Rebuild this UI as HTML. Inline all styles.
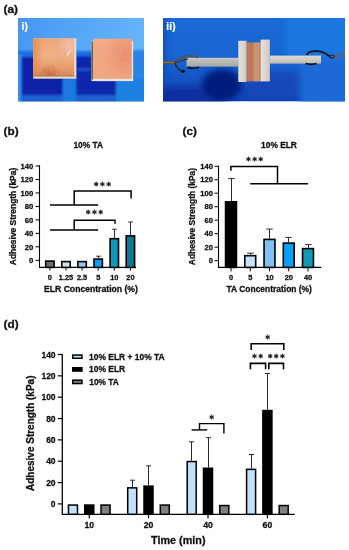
<!DOCTYPE html>
<html><head><meta charset="utf-8"><style>
html,body{margin:0;padding:0;background:#fff;width:349px;height:550px;overflow:hidden}
svg{position:absolute;left:0;top:0;display:block}
text{font-family:"Liberation Sans", Arial, sans-serif;font-weight:bold;fill:#111;stroke:#111;stroke-width:0.28px}
.st{font-family:"DejaVu Sans",sans-serif;stroke:#111;stroke-width:0.35px}
</style></head><body>
<svg width="349" height="550" viewBox="0 0 349 550">
<defs>
<clipPath id="c1"><rect x="18" y="18" width="126" height="83.5"/></clipPath>
<clipPath id="c2"><rect x="163" y="18" width="182" height="83.5"/></clipPath>
<filter id="b3" x="-30%" y="-30%" width="160%" height="160%"><feGaussianBlur stdDeviation="3"/></filter>
<filter id="b2" x="-20%" y="-20%" width="140%" height="140%"><feGaussianBlur stdDeviation="1.1"/></filter>
<filter id="b1" x="-20%" y="-20%" width="140%" height="140%"><feGaussianBlur stdDeviation="0.6"/></filter>
<filter id="b05" x="-10%" y="-10%" width="120%" height="120%"><feGaussianBlur stdDeviation="0.45"/></filter>
<filter id="spk" x="0" y="0" width="100%" height="100%"><feTurbulence type="fractalNoise" baseFrequency="0.3" numOctaves="3" seed="7"/><feColorMatrix type="matrix" values="0 0 0 0 0.8  0 0 0 0 0.36  0 0 0 0 0.28  6 0 0 0 -2.9"/><feComposite in2="SourceGraphic" operator="in"/></filter>
<linearGradient id="bg1" x1="0" y1="0" x2="1" y2="0.15">
<stop offset="0" stop-color="#4696f2"/><stop offset="0.5" stop-color="#56a6f7"/><stop offset="1" stop-color="#66b4fa"/></linearGradient>
<linearGradient id="t1" x1="0" y1="0" x2="0" y2="1">
<stop offset="0" stop-color="#eea676"/><stop offset="0.45" stop-color="#f0b286"/><stop offset="0.8" stop-color="#e69c68"/><stop offset="1" stop-color="#d68652"/></linearGradient>
<linearGradient id="t1l" x1="0" y1="0" x2="1" y2="0">
<stop offset="0" stop-color="#e2843c" stop-opacity="0.75"/><stop offset="0.25" stop-color="#e2843c" stop-opacity="0"/></linearGradient>
<radialGradient id="t1h" cx="0.88" cy="0.18" r="0.32">
<stop offset="0" stop-color="#f6c8c0" stop-opacity="0.75"/><stop offset="1" stop-color="#f6c8c0" stop-opacity="0"/></radialGradient>
<radialGradient id="t1d" cx="0.4" cy="0.95" r="0.28">
<stop offset="0" stop-color="#c0603a" stop-opacity="0.75"/><stop offset="1" stop-color="#c0603a" stop-opacity="0"/></radialGradient>
<linearGradient id="t2" x1="0" y1="0" x2="1" y2="1">
<stop offset="0" stop-color="#f4ae86"/><stop offset="0.5" stop-color="#f2a87e"/><stop offset="1" stop-color="#eea478"/></linearGradient>
<radialGradient id="t2r" cx="0.85" cy="0.4" r="0.6">
<stop offset="0" stop-color="#e86a58" stop-opacity="0.45"/><stop offset="1" stop-color="#e86a58" stop-opacity="0"/></radialGradient>
<linearGradient id="bg2" x1="0" y1="0" x2="0" y2="1">
<stop offset="0" stop-color="#1a6ad8"/><stop offset="0.5" stop-color="#1864d0"/><stop offset="0.75" stop-color="#1452c2"/><stop offset="1" stop-color="#1042b2"/></linearGradient>
<linearGradient id="tis" x1="0" y1="0" x2="1" y2="0">
<stop offset="0" stop-color="#a46044"/><stop offset="0.12" stop-color="#c07858"/><stop offset="0.45" stop-color="#bc7858"/><stop offset="0.55" stop-color="#cc9676"/><stop offset="0.88" stop-color="#c89272"/><stop offset="1" stop-color="#a06a4c"/></linearGradient>
<linearGradient id="plate" x1="0" y1="0" x2="1" y2="0">
<stop offset="0" stop-color="#e8e2dc"/><stop offset="0.5" stop-color="#ddd6d0"/><stop offset="1" stop-color="#cec6c0"/></linearGradient>
<linearGradient id="bar" x1="0" y1="0" x2="0" y2="1">
<stop offset="0" stop-color="#cfcdca"/><stop offset="0.3" stop-color="#bdbcb8"/><stop offset="1" stop-color="#a8a7a4"/></linearGradient>
<linearGradient id="barR" x1="0" y1="0" x2="0" y2="1">
<stop offset="0" stop-color="#dcdad4"/><stop offset="0.5" stop-color="#cdcac4"/><stop offset="1" stop-color="#bcb9b4"/></linearGradient>
</defs>
<g clip-path="url(#c1)">
<rect x="18" y="18" width="126" height="83.5" fill="url(#bg1)"/>
<g filter="url(#b2)">
<rect x="10" y="51" width="125" height="58" fill="#1a6ee0"/>
<rect x="10" y="54" width="11" height="55" fill="#3a90f0"/>
<rect x="21.5" y="57" width="42" height="38" fill="#0a24a6"/>
<rect x="62.5" y="80" width="13.5" height="25" fill="#1a78e0"/>
<rect x="76" y="56" width="16" height="39" fill="#0a28ac"/>
<rect x="78" y="68" width="12" height="3" fill="#1a50c8"/>
<rect x="90" y="80" width="26" height="15" fill="#0a28ac"/>
<rect x="116" y="77" width="36" height="32" fill="#1f80e0"/>
<rect x="133" y="50" width="18" height="28" fill="#2a84e6"/>
<rect x="21" y="95" width="41.5" height="12" fill="#1a5ed0"/>
<rect x="76" y="95" width="40" height="12" fill="#1a5ed0"/>
</g>
<g filter="url(#b1)">
<rect x="33.3" y="38.4" width="43" height="40.3" fill="#e8dcc8"/>
<rect x="33.3" y="38.4" width="40.8" height="37.6" fill="url(#t1)"/>
<rect x="33.3" y="38.4" width="40.8" height="37.6" fill="url(#t1l)"/>
<rect x="33.3" y="38.4" width="40.8" height="37.6" fill="url(#t1h)"/>
<rect x="33.3" y="38.4" width="40.8" height="37.6" fill="url(#t1d)"/>
<rect x="33.3" y="38.4" width="40.8" height="37.6" fill="#fff" filter="url(#spk)" opacity="0.3"/>
<path d="M70.5,50.5 C68.5,51.5 67.5,53.5 67.8,55.5" fill="none" stroke="#fff6f0" stroke-width="0.9" opacity="0.9"/>
<rect x="33.3" y="75.6" width="42" height="0.9" fill="#a87050"/>
<rect x="91.6" y="40.8" width="41.6" height="40.3" fill="#ece4d6"/>
<rect x="91.6" y="41.5" width="1.8" height="38" fill="#7a6048"/>
<rect x="93.4" y="38.8" width="38.3" height="39.9" fill="url(#t2)"/>
<rect x="93.4" y="38.8" width="38.3" height="39.9" fill="url(#t2r)"/>
<rect x="93.4" y="38.8" width="38.3" height="39.9" fill="#fff" filter="url(#spk)" opacity="0.55"/>
</g>
<text x="21.4" y="29.6" font-size="10.1" letter-spacing="0.3" style="fill:#fff;stroke:#fff;stroke-width:0.2px">i)</text>
</g>
<g clip-path="url(#c2)">
<rect x="163" y="18" width="182" height="83.5" fill="url(#bg2)"/>
<g filter="url(#b3)">
<rect x="158" y="15" width="7.5" height="90" fill="#1248b8"/>
<rect x="285" y="14" width="65" height="44" fill="#1e76e0"/>
<rect x="300" y="58" width="50" height="50" fill="#1a6ad8"/>
<rect x="160" y="87" width="64" height="18" fill="#0c2e9e"/>
<ellipse cx="222" cy="85" rx="20" ry="16" fill="#061c7c"/>
<rect x="250" y="73" width="48" height="24" fill="#1346b8"/>
</g>
<g filter="url(#b05)">
<rect x="186.5" y="57.8" width="52" height="8.8" fill="url(#bar)"/>
<rect x="270" y="55.6" width="51" height="8" fill="url(#barR)"/>
<rect x="246.3" y="42.4" width="14.7" height="39" fill="url(#tis)"/>
<rect x="238.3" y="40.8" width="8.3" height="41.2" fill="url(#plate)"/>
<rect x="260.6" y="39.6" width="9.3" height="41.8" fill="url(#plate)"/>
<path d="M163,62.6 L175,62.6" stroke="#5e5040" stroke-width="3.2" fill="none"/>
<path d="M163,62.4 L175,62.4" stroke="#8c7c62" stroke-width="0.9" fill="none"/>
<path d="M174,62 C178,59 183,56.5 189,55.8 C193,55.5 196,56 197.5,58" stroke="#5a5040" stroke-width="1.6" fill="none"/>
<path d="M174.5,63 C179,61.2 184,59.4 188,58.8" stroke="#3a342c" stroke-width="1.2" fill="none"/>
<path d="M175,63.5 C176,66 178,69 181,70.5" stroke="#2a2a2a" stroke-width="1.5" fill="none"/>
<ellipse cx="183" cy="71.3" rx="2.2" ry="1.6" fill="#181818"/>
<path d="M187.5,67.4 C191,68.6 196,68.2 199,67.2" stroke="#0e1630" stroke-width="1.7" fill="none"/>
<path d="M306.5,55 C308.5,51.5 313,50.8 318,51.2 C323,51.6 326,53.5 329.5,56.3" stroke="#161616" stroke-width="1.8" fill="none"/>
<ellipse cx="332" cy="56.6" rx="2.3" ry="1.6" fill="none" stroke="#2a2420" stroke-width="1.2"/>
<path d="M334,56 L345,51.6 M334,57.4 L345,55.6" stroke="#7a5c4a" stroke-width="1" fill="none"/>
<path d="M305.5,63.6 C309,64.6 313,64.6 316.5,63.6" stroke="#101010" stroke-width="1.6" fill="none"/>
</g>
<text x="166.3" y="29.5" font-size="10.1" letter-spacing="0.2" style="fill:#fff;stroke:#fff;stroke-width:0.2px">ii)</text>
</g>

<text x="88.2" y="147.7" font-size="8.4" text-anchor="middle" >10% TA</text>
<line x1="39.5" y1="165.25" x2="39.5" y2="267.95" stroke="#000" stroke-width="1.1"/>
<line x1="35.5" y1="260.3" x2="39.5" y2="260.3" stroke="#000" stroke-width="1.0"/>
<text x="33.4" y="263.1" font-size="7.7" text-anchor="end" >0</text>
<line x1="35.5" y1="246.83" x2="39.5" y2="246.83" stroke="#000" stroke-width="1.0"/>
<text x="33.4" y="249.63" font-size="7.7" text-anchor="end" >20</text>
<line x1="35.5" y1="233.36" x2="39.5" y2="233.36" stroke="#000" stroke-width="1.0"/>
<text x="33.4" y="236.16" font-size="7.7" text-anchor="end" >40</text>
<line x1="35.5" y1="219.88" x2="39.5" y2="219.88" stroke="#000" stroke-width="1.0"/>
<text x="33.4" y="222.68" font-size="7.7" text-anchor="end" >60</text>
<line x1="35.5" y1="206.41" x2="39.5" y2="206.41" stroke="#000" stroke-width="1.0"/>
<text x="33.4" y="209.21" font-size="7.7" text-anchor="end" >80</text>
<line x1="35.5" y1="192.94" x2="39.5" y2="192.94" stroke="#000" stroke-width="1.0"/>
<text x="33.4" y="195.74" font-size="7.7" text-anchor="end" >100</text>
<line x1="35.5" y1="179.47" x2="39.5" y2="179.47" stroke="#000" stroke-width="1.0"/>
<text x="33.4" y="182.27" font-size="7.7" text-anchor="end" >120</text>
<line x1="35.5" y1="166.0" x2="39.5" y2="166.0" stroke="#000" stroke-width="1.0"/>
<text x="33.4" y="168.8" font-size="7.7" text-anchor="end" >140</text>
<line x1="39.5" y1="267.4" x2="136.0" y2="267.4" stroke="#000" stroke-width="1.1"/>
<rect x="45.7" y="261.1" width="8.4" height="6.3" fill="#6e6e6e" stroke="#000" stroke-width="1.6"/>
<line x1="49.9" y1="267.4" x2="49.9" y2="270.59999999999997" stroke="#000" stroke-width="1.0"/>
<text x="49.9" y="279.7" font-size="7.4" text-anchor="middle" >0</text>
<rect x="61.8" y="261.6" width="8.4" height="5.8" fill="#c8e4fa" stroke="#000" stroke-width="1.6"/>
<line x1="66.0" y1="267.4" x2="66.0" y2="270.59999999999997" stroke="#000" stroke-width="1.0"/>
<text x="66.0" y="279.7" font-size="7.4" text-anchor="middle" >1.25</text>
<rect x="77.9" y="261.6" width="8.4" height="5.8" fill="#92c9f4" stroke="#000" stroke-width="1.6"/>
<line x1="82.1" y1="267.4" x2="82.1" y2="270.59999999999997" stroke="#000" stroke-width="1.0"/>
<text x="82.1" y="279.7" font-size="7.4" text-anchor="middle" >2.5</text>
<rect x="94.0" y="259.1" width="8.4" height="8.3" fill="#12a0f6" stroke="#000" stroke-width="1.6"/>
<line x1="98.5" y1="256.2" x2="98.5" y2="258.3" stroke="#2a2a2a" stroke-width="1.0"/>
<line x1="96.2" y1="256.2" x2="100.8" y2="256.2" stroke="#2a2a2a" stroke-width="1.0"/>
<line x1="98.2" y1="267.4" x2="98.2" y2="270.59999999999997" stroke="#000" stroke-width="1.0"/>
<text x="98.2" y="279.7" font-size="7.4" text-anchor="middle" >5</text>
<rect x="110.1" y="238.7" width="8.4" height="28.7" fill="#0e9ab8" stroke="#000" stroke-width="1.6"/>
<line x1="114.5" y1="229.2" x2="114.5" y2="237.9" stroke="#2a2a2a" stroke-width="1.0"/>
<line x1="112.2" y1="229.2" x2="116.8" y2="229.2" stroke="#2a2a2a" stroke-width="1.0"/>
<line x1="114.3" y1="267.4" x2="114.3" y2="270.59999999999997" stroke="#000" stroke-width="1.0"/>
<text x="114.3" y="279.7" font-size="7.4" text-anchor="middle" >10</text>
<rect x="126.2" y="235.9" width="8.4" height="31.5" fill="#0d7a90" stroke="#000" stroke-width="1.6"/>
<line x1="130.5" y1="222.0" x2="130.5" y2="235.1" stroke="#2a2a2a" stroke-width="1.0"/>
<line x1="128.2" y1="222.0" x2="132.8" y2="222.0" stroke="#2a2a2a" stroke-width="1.0"/>
<line x1="130.4" y1="267.4" x2="130.4" y2="270.59999999999997" stroke="#000" stroke-width="1.0"/>
<text x="130.4" y="279.7" font-size="7.4" text-anchor="middle" >20</text>
<text x="90.95" y="291.6" font-size="8.3" text-anchor="middle" textLength="93.88" lengthAdjust="spacingAndGlyphs">ELR Concentration (%)</text>
<text transform="translate(15.9,216.5) rotate(-90)" font-size="8.2" text-anchor="middle" textLength="97.42" lengthAdjust="spacingAndGlyphs">Adhesive Strength (kPa)</text>
<path d="M50,204.9 H98.2" fill="none" stroke="#000" stroke-width="1.5" stroke-linejoin="miter" stroke-linecap="butt"/>
<path d="M74.2,204.9 V190.9 H131.1 V198.5" fill="none" stroke="#000" stroke-width="1.5" stroke-linejoin="miter" stroke-linecap="butt"/>
<path d="M50,230.1 H98.2" fill="none" stroke="#000" stroke-width="1.5" stroke-linejoin="miter" stroke-linecap="butt"/>
<path d="M74.2,230.1 V220.3 H115 V223.7" fill="none" stroke="#000" stroke-width="1.5" stroke-linejoin="miter" stroke-linecap="butt"/>
<text class="st" x="96.2" y="188.73" font-size="8.4" text-anchor="middle">*</text>
<text class="st" x="102.4" y="188.73" font-size="8.4" text-anchor="middle">*</text>
<text class="st" x="108.6" y="188.73" font-size="8.4" text-anchor="middle">*</text>
<text class="st" x="88.2" y="217.13" font-size="8.4" text-anchor="middle">*</text>
<text class="st" x="94.4" y="217.13" font-size="8.4" text-anchor="middle">*</text>
<text class="st" x="100.6" y="217.13" font-size="8.4" text-anchor="middle">*</text>
<text x="279.0" y="147.7" font-size="8.4" text-anchor="middle" >10% ELR</text>
<line x1="218.5" y1="165.75" x2="218.5" y2="267.95" stroke="#000" stroke-width="1.1"/>
<line x1="214.5" y1="260.6" x2="218.5" y2="260.6" stroke="#000" stroke-width="1.0"/>
<text x="212.9" y="263.2" font-size="7.6" text-anchor="end" >0</text>
<line x1="214.5" y1="247.13" x2="218.5" y2="247.13" stroke="#000" stroke-width="1.0"/>
<text x="212.9" y="249.73" font-size="7.6" text-anchor="end" >20</text>
<line x1="214.5" y1="233.66" x2="218.5" y2="233.66" stroke="#000" stroke-width="1.0"/>
<text x="212.9" y="236.26" font-size="7.6" text-anchor="end" >40</text>
<line x1="214.5" y1="220.18" x2="218.5" y2="220.18" stroke="#000" stroke-width="1.0"/>
<text x="212.9" y="222.78" font-size="7.6" text-anchor="end" >60</text>
<line x1="214.5" y1="206.71" x2="218.5" y2="206.71" stroke="#000" stroke-width="1.0"/>
<text x="212.9" y="209.31" font-size="7.6" text-anchor="end" >80</text>
<line x1="214.5" y1="193.24" x2="218.5" y2="193.24" stroke="#000" stroke-width="1.0"/>
<text x="212.9" y="195.84" font-size="7.6" text-anchor="end" >100</text>
<line x1="214.5" y1="179.77" x2="218.5" y2="179.77" stroke="#000" stroke-width="1.0"/>
<text x="212.9" y="182.37" font-size="7.6" text-anchor="end" >120</text>
<line x1="214.5" y1="166.3" x2="218.5" y2="166.3" stroke="#000" stroke-width="1.0"/>
<text x="212.9" y="168.9" font-size="7.6" text-anchor="end" >140</text>
<line x1="218.5" y1="267.4" x2="321.2" y2="267.4" stroke="#000" stroke-width="1.1"/>
<rect x="225.55" y="201.8" width="10.9" height="65.6" fill="#000000" stroke="#000" stroke-width="1.6"/>
<line x1="231.5" y1="178.6" x2="231.5" y2="201.0" stroke="#2a2a2a" stroke-width="1.0"/>
<line x1="228.25" y1="178.6" x2="234.75" y2="178.6" stroke="#2a2a2a" stroke-width="1.0"/>
<line x1="231.0" y1="267.4" x2="231.0" y2="271.4" stroke="#000" stroke-width="1.0"/>
<text x="231.0" y="279.8" font-size="7.4" text-anchor="middle" >0</text>
<rect x="244.8" y="255.7" width="10.9" height="11.7" fill="#c8e4fa" stroke="#000" stroke-width="1.6"/>
<line x1="250.5" y1="253.2" x2="250.5" y2="254.9" stroke="#2a2a2a" stroke-width="1.0"/>
<line x1="247.25" y1="253.2" x2="253.75" y2="253.2" stroke="#2a2a2a" stroke-width="1.0"/>
<line x1="250.25" y1="267.4" x2="250.25" y2="271.4" stroke="#000" stroke-width="1.0"/>
<text x="250.25" y="279.8" font-size="7.4" text-anchor="middle" >5</text>
<rect x="264.05" y="239.4" width="10.9" height="28.0" fill="#80c0f2" stroke="#000" stroke-width="1.6"/>
<line x1="269.5" y1="229.1" x2="269.5" y2="238.6" stroke="#2a2a2a" stroke-width="1.0"/>
<line x1="266.25" y1="229.1" x2="272.75" y2="229.1" stroke="#2a2a2a" stroke-width="1.0"/>
<line x1="269.5" y1="267.4" x2="269.5" y2="271.4" stroke="#000" stroke-width="1.0"/>
<text x="269.5" y="279.8" font-size="7.4" text-anchor="middle" >10</text>
<rect x="283.3" y="243.1" width="10.9" height="24.3" fill="#0aa0f8" stroke="#000" stroke-width="1.6"/>
<line x1="288.5" y1="237.4" x2="288.5" y2="242.3" stroke="#2a2a2a" stroke-width="1.0"/>
<line x1="285.25" y1="237.4" x2="291.75" y2="237.4" stroke="#2a2a2a" stroke-width="1.0"/>
<line x1="288.75" y1="267.4" x2="288.75" y2="271.4" stroke="#000" stroke-width="1.0"/>
<text x="288.75" y="279.8" font-size="7.4" text-anchor="middle" >20</text>
<rect x="302.55" y="248.6" width="10.9" height="18.8" fill="#1299b6" stroke="#000" stroke-width="1.6"/>
<line x1="308.5" y1="244.6" x2="308.5" y2="247.8" stroke="#2a2a2a" stroke-width="1.0"/>
<line x1="305.25" y1="244.6" x2="311.75" y2="244.6" stroke="#2a2a2a" stroke-width="1.0"/>
<line x1="308.0" y1="267.4" x2="308.0" y2="271.4" stroke="#000" stroke-width="1.0"/>
<text x="308.0" y="279.8" font-size="7.4" text-anchor="middle" >40</text>
<text x="269.25" y="291.6" font-size="8.3" text-anchor="middle" textLength="85.37" lengthAdjust="spacingAndGlyphs">TA Concentration (%)</text>
<text transform="translate(195.2,216.6) rotate(-90)" font-size="8.2" text-anchor="middle" textLength="97.12" lengthAdjust="spacingAndGlyphs">Adhesive Strength (kPa)</text>
<path d="M230.9,170.8 V166.5 H277.5 V183.7" fill="none" stroke="#000" stroke-width="1.5" stroke-linejoin="miter" stroke-linecap="butt"/>
<path d="M250.2,183.7 H308.1" fill="none" stroke="#000" stroke-width="1.5" stroke-linejoin="miter" stroke-linecap="butt"/>
<text class="st" x="248.4" y="164.23" font-size="8.4" text-anchor="middle">*</text>
<text class="st" x="254.6" y="164.23" font-size="8.4" text-anchor="middle">*</text>
<text class="st" x="260.8" y="164.23" font-size="8.4" text-anchor="middle">*</text>
<line x1="62.3" y1="353.9" x2="62.3" y2="514.9" stroke="#000" stroke-width="1.3"/>
<line x1="57.8" y1="503.9" x2="62.3" y2="503.9" stroke="#000" stroke-width="1.2"/>
<text x="55.6" y="507.1" font-size="8.5" text-anchor="end" >0</text>
<line x1="57.8" y1="482.56" x2="62.3" y2="482.56" stroke="#000" stroke-width="1.2"/>
<text x="55.6" y="485.76" font-size="8.5" text-anchor="end" >20</text>
<line x1="57.8" y1="461.22" x2="62.3" y2="461.22" stroke="#000" stroke-width="1.2"/>
<text x="55.6" y="464.42" font-size="8.5" text-anchor="end" >40</text>
<line x1="57.8" y1="439.87" x2="62.3" y2="439.87" stroke="#000" stroke-width="1.2"/>
<text x="55.6" y="443.07" font-size="8.5" text-anchor="end" >60</text>
<line x1="57.8" y1="418.53" x2="62.3" y2="418.53" stroke="#000" stroke-width="1.2"/>
<text x="55.6" y="421.73" font-size="8.5" text-anchor="end" >80</text>
<line x1="57.8" y1="397.19" x2="62.3" y2="397.19" stroke="#000" stroke-width="1.2"/>
<text x="55.6" y="400.39" font-size="8.5" text-anchor="end" >100</text>
<line x1="57.8" y1="375.85" x2="62.3" y2="375.85" stroke="#000" stroke-width="1.2"/>
<text x="55.6" y="379.05" font-size="8.5" text-anchor="end" >120</text>
<line x1="57.8" y1="354.51" x2="62.3" y2="354.51" stroke="#000" stroke-width="1.2"/>
<text x="55.6" y="357.71" font-size="8.5" text-anchor="end" >140</text>
<line x1="62.3" y1="514.3" x2="294.7" y2="514.3" stroke="#000" stroke-width="1.3"/>
<rect x="68.45" y="505.05" width="9.0" height="9.25" fill="#c2e0f8" stroke="#000" stroke-width="1.5"/>
<rect x="84.75" y="505.05" width="9.0" height="9.25" fill="#000000" stroke="#000" stroke-width="1.5"/>
<rect x="101.05" y="505.05" width="9.0" height="9.25" fill="#808080" stroke="#000" stroke-width="1.5"/>
<line x1="89.25" y1="514.3" x2="89.25" y2="518.3" stroke="#000" stroke-width="1.2"/>
<text x="89.25" y="527.6" font-size="8.7" text-anchor="middle" >10</text>
<rect x="127.7" y="487.85" width="9.0" height="26.45" fill="#c2e0f8" stroke="#000" stroke-width="1.5"/>
<line x1="132.5" y1="480.2" x2="132.5" y2="487.1" stroke="#2a2a2a" stroke-width="1.0"/>
<line x1="130.0" y1="480.2" x2="135.0" y2="480.2" stroke="#2a2a2a" stroke-width="1.0"/>
<rect x="144.0" y="486.15" width="9.0" height="28.15" fill="#000000" stroke="#000" stroke-width="1.5"/>
<line x1="148.5" y1="465.8" x2="148.5" y2="485.4" stroke="#2a2a2a" stroke-width="1.0"/>
<line x1="146.0" y1="465.8" x2="151.0" y2="465.8" stroke="#2a2a2a" stroke-width="1.0"/>
<rect x="160.3" y="505.05" width="9.0" height="9.25" fill="#808080" stroke="#000" stroke-width="1.5"/>
<line x1="148.5" y1="514.3" x2="148.5" y2="518.3" stroke="#000" stroke-width="1.2"/>
<text x="148.5" y="527.6" font-size="8.7" text-anchor="middle" >20</text>
<rect x="187.2" y="461.55" width="9.0" height="52.75" fill="#c2e0f8" stroke="#000" stroke-width="1.5"/>
<line x1="191.5" y1="441.8" x2="191.5" y2="460.8" stroke="#2a2a2a" stroke-width="1.0"/>
<line x1="189.0" y1="441.8" x2="194.0" y2="441.8" stroke="#2a2a2a" stroke-width="1.0"/>
<rect x="203.5" y="468.25" width="9.0" height="46.05" fill="#000000" stroke="#000" stroke-width="1.5"/>
<line x1="208.5" y1="437.7" x2="208.5" y2="467.5" stroke="#2a2a2a" stroke-width="1.0"/>
<line x1="206.0" y1="437.7" x2="211.0" y2="437.7" stroke="#2a2a2a" stroke-width="1.0"/>
<rect x="219.8" y="505.55" width="9.0" height="8.75" fill="#808080" stroke="#000" stroke-width="1.5"/>
<line x1="208.0" y1="514.3" x2="208.0" y2="518.3" stroke="#000" stroke-width="1.2"/>
<text x="208.0" y="527.6" font-size="8.7" text-anchor="middle" >40</text>
<rect x="246.6" y="469.35" width="9.0" height="44.95" fill="#c2e0f8" stroke="#000" stroke-width="1.5"/>
<line x1="251.5" y1="454.5" x2="251.5" y2="468.6" stroke="#2a2a2a" stroke-width="1.0"/>
<line x1="249.0" y1="454.5" x2="254.0" y2="454.5" stroke="#2a2a2a" stroke-width="1.0"/>
<rect x="262.9" y="410.55" width="9.0" height="103.75" fill="#000000" stroke="#000" stroke-width="1.5"/>
<line x1="267.5" y1="373.5" x2="267.5" y2="409.8" stroke="#2a2a2a" stroke-width="1.0"/>
<line x1="265.0" y1="373.5" x2="270.0" y2="373.5" stroke="#2a2a2a" stroke-width="1.0"/>
<rect x="279.2" y="505.55" width="9.0" height="8.75" fill="#808080" stroke="#000" stroke-width="1.5"/>
<line x1="267.4" y1="514.3" x2="267.4" y2="518.3" stroke="#000" stroke-width="1.2"/>
<text x="267.4" y="527.6" font-size="8.7" text-anchor="middle" >60</text>
<text x="178.3" y="544.2" font-size="10.8" text-anchor="middle" >Time (min)</text>
<text transform="translate(34.0,433.25) rotate(-90)" font-size="10.0" text-anchor="middle" textLength="115.43" lengthAdjust="spacingAndGlyphs">Adhesive Strength (kPa)</text>
<rect x="72.75" y="355.05" width="9.2" height="3.2" fill="#c2e0f8" stroke="#000" stroke-width="1.5"/>
<rect x="72.75" y="367.75" width="9.2" height="3.3" fill="#000" stroke="#000" stroke-width="1.5"/>
<rect x="72.75" y="380.15" width="9.2" height="3.4" fill="#808080" stroke="#000" stroke-width="1.5"/>
<text x="89.1" y="359.5" font-size="8.45" text-anchor="start" >10% ELR + 10% TA</text>
<text x="89.1" y="371.8" font-size="8.45" text-anchor="start" >10% ELR</text>
<text x="89.3" y="384.5" font-size="8.3" text-anchor="start" >10% TA</text>
<path d="M191.6,429.9 H207.2" fill="none" stroke="#000" stroke-width="1.4" stroke-linejoin="miter" stroke-linecap="butt"/>
<path d="M199.5,429.9 V423.6 H223.9 V433.6" fill="none" stroke="#000" stroke-width="1.4" stroke-linejoin="miter" stroke-linecap="butt"/>
<text class="st" x="211.7" y="421.53" font-size="8.4" text-anchor="middle">*</text>
<path d="M251.2,350.0 V343.7 H283.8 V350.0" fill="none" stroke="#000" stroke-width="1.6" stroke-linejoin="miter" stroke-linecap="butt"/>
<text class="st" x="267.8" y="341.83" font-size="8.4" text-anchor="middle">*</text>
<path d="M250.4,369.3 V363.4 H265.6 V369.3" fill="none" stroke="#000" stroke-width="1.6" stroke-linejoin="miter" stroke-linecap="butt"/>
<path d="M268.8,369.3 V363.4 H283.5 V369.3" fill="none" stroke="#000" stroke-width="1.6" stroke-linejoin="miter" stroke-linecap="butt"/>
<text class="st" x="254.4" y="361.03" font-size="8.4" text-anchor="middle">*</text>
<text class="st" x="260.6" y="361.03" font-size="8.4" text-anchor="middle">*</text>
<text class="st" x="270.1" y="361.03" font-size="8.4" text-anchor="middle">*</text>
<text class="st" x="276.3" y="361.03" font-size="8.4" text-anchor="middle">*</text>
<text class="st" x="282.5" y="361.03" font-size="8.4" text-anchor="middle">*</text>
<text x="3.6" y="12.6" font-size="11.8" text-anchor="start" >(a)</text>
<text x="3.6" y="134.6" font-size="11.8" text-anchor="start" >(b)</text>
<text x="182.5" y="134.9" font-size="11.8" text-anchor="start" >(c)</text>
<text x="3.6" y="327.5" font-size="11.8" text-anchor="start" >(d)</text>
</svg>
</body></html>
